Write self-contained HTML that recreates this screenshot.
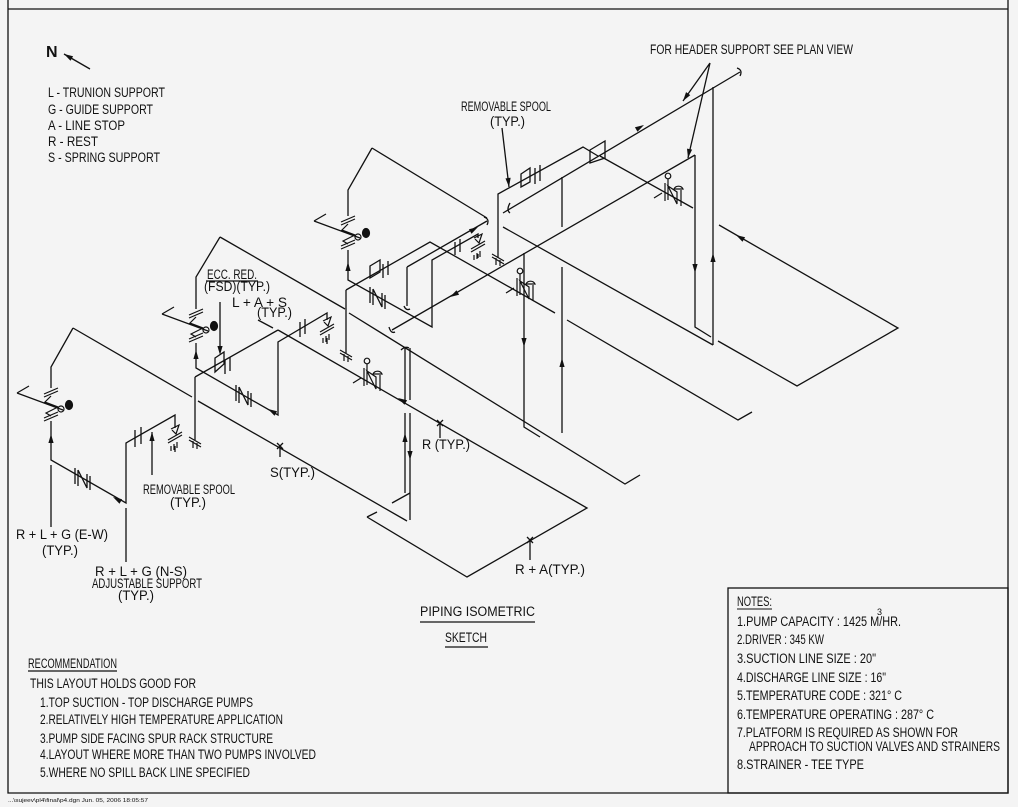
<!DOCTYPE html>
<html><head><meta charset="utf-8"><style>
html,body{margin:0;padding:0;background:#f4f4f4;}
svg{display:block;}
text{font-family:"Liberation Sans Narrow","Liberation Sans",sans-serif;fill:#111;font-size:13.5px;}
</style></head><body>
<svg width="1018" height="807" viewBox="0 0 1018 807" xmlns="http://www.w3.org/2000/svg">
<defs>
<path id="ar" d="M0,0 L-9,-2.6 L-9,2.6Z" fill="#111"/>
<g id="str" fill="none" stroke="#111" stroke-width="1.2">
<path d="M-7,-11 L7,-17 M-7,-8 L7,-14 M0,-9 L-6,-3 L7,2 L-5,8 L0,11 M-7,13 L7,7 M-7,16 L7,10 M-34,-12 L12,5 M-34,-12 L-22,-19"/>
<circle cx="10" cy="4" r="3"/><ellipse cx="18" cy="0" rx="3.5" ry="4.5" fill="#111"/>
</g>
<g id="chk" fill="none" stroke="#111" stroke-width="1.3">
<path d="M-7,-10 L-7,6 M-4,-8 L-4,8 M-4,-8 L5,10 L5,-4 M8,-2 L8,12"/>
</g>
<g id="pv" fill="none" stroke="#111" stroke-width="1.2">
<path d="M-14,6 L-6,1 M-3,-9 L-3,9 M0,-10 L0,8 M0,-6 L9,12 L9,0 Z M13,-2 L13,14"/>
<circle cx="0" cy="-16" r="2.8"/><path d="M0,-13 L0,-10 M6,-3 A5,5 0 0 1 15,-3 Z"/>
</g>
<g id="sv" fill="none" stroke="#111" stroke-width="1.2">
<path d="M-7,3 L7,-5 M-7,6 L7,-2 M-4,-8 L4,-12 L1,-3 L-3,-7 M-4,9 L-4,14 M-1,7 L-1,13 M2,5 L2,11"/>
</g>
<g id="ft" fill="none" stroke="#111" stroke-width="1.2">
<path d="M-6,-4 L6,3 M-6,-1 L6,6 M-2,0 L-2,7 M2,2 L2,8"/>
</g>
</defs>
<g fill="none" stroke="#111" stroke-width="1.3">
<path d="M8,0 L8,793 L1008,793 L1008,0 M8,9 L1008,9"/>
<rect x="728" y="588" width="280" height="205"/>
<path d="M90,69 L64,54"/>
<path d="M73,328 L51,367 L51,388 M51,421 L51,460 L126,503 L126,443 L175,415 L175,428 M175,446 L175,452"/>
<path d="M135,430 L135,447 M141,427 L141,444"/>
<path d="M51,465 L51,527 M126,508 L126,562 M152,432 L152,475"/>
<path d="M195,377 L195,440 M195,377 L278,330"/>
<path d="M225,360 L225,374 M230,357 L230,371"/>
<path d="M220,237 L196,277 L196,309 M196,343 L196,368 L278,415 L278,342 L327,313 L327,320 M327,338 L327,344"/>
<path d="M300,322 L300,337 M305,319 L305,334"/>
<path d="M73,328 L192,397 M198,401 L407,521 M392,503 L410,493 M367,517 L377,512 M367,517 L467,577 L587,508 L278,330"/>
<path d="M258,320 L273,328 M220,302 L220,352"/>
<path d="M405,348 L405,400 M405,413 L405,493 M410,348 L410,400 M410,413 L410,520"/>
<path d="M401,350 Q405,346 409,348"/>
<path d="M372,148 L348,190 L348,216 M348,250 L348,280 L432,327 L432,260 L478,234 L478,238 M478,254 L478,258"/>
<path d="M455,242 L455,255 M460,239 L460,252"/>
<path d="M346,290 L346,353 M346,290 L430,242 L555,313"/>
<path d="M383,264 L383,278 M388,261 L388,275"/>
<path d="M407,267 L487,221 M407,267 L407,306 M404,306 Q406,311 410,309 M484,217 Q490,219 487,225"/>
<path d="M392,330 L695,155 M389,327 Q391,334 395,332"/>
<path d="M220,237 L345,309 M349,313 L625,484 L640,475"/>
<path d="M498,258 L498,194 L583,147 L598,156 M510,203 Q506,210 510,213 M503,213 L740,72 M737,68 Q743,70 740,76"/>
<path d="M600,156 L693,208 M372,148 L487,218 M503,227 L713,345 M567,320 L738,420 L752,412"/>
<path d="M524,253 L524,427 L540,437 M562,177 L562,227 M562,267 L562,433"/>
<path d="M695,155 L695,327 L711,337 M713,87 L713,345"/>
<path d="M719,225 L898,328 L797,386 L718,341"/>
<path d="M710,63 L683,101 M710,63 L688,158 M502,128 L509,187"/>
<path d="M535,168 L535,184 M540,165 L540,181"/>
<path d="M215,358 L224,352 L224,364 L215,372 Z M521,174 L530,168 L530,182 L521,187 Z M590,150 L605,141 L605,158 L590,163 Z M370,266 L380,260 L380,272 L370,278 Z"/>
<path d="M277,443 L283,449 M283,443 L277,449 M280,446 L280,457 M437,420 L443,426 M443,420 L437,426 M440,423 L440,438 M527,537 L533,543 M533,537 L527,543 M530,540 L530,560"/>
<path d="M420,622 L535,622 M445,647 L488,647 M28,671 L117,671 M206,281 L258,281"/>
</g>
<use href="#str" x="51" y="405"/><use href="#str" x="196" y="326"/><use href="#str" x="348" y="233"/>
<use href="#chk" x="82" y="478"/><use href="#chk" x="243" y="395"/><use href="#chk" x="377" y="297"/>
<use href="#pv" x="367" y="377"/><use href="#pv" x="520" y="287"/><use href="#pv" x="668" y="192"/>
<use href="#sv" x="175" y="437"/><use href="#sv" x="327" y="329"/><use href="#sv" x="478" y="246"/>
<use href="#ft" x="195" y="441"/><use href="#ft" x="346" y="354"/><use href="#ft" x="498" y="258"/>
<use href="#ar" transform="translate(64,54) rotate(-150)"/>
<use href="#ar" transform="translate(51,434) rotate(-90)"/>
<use href="#ar" transform="translate(113,497) rotate(-150)"/>
<use href="#ar" transform="translate(152,432) rotate(-90)"/>
<use href="#ar" transform="translate(196,350) rotate(-90)"/>
<use href="#ar" transform="translate(268,409) rotate(-150)"/>
<use href="#ar" transform="translate(220,355) rotate(90)"/>
<use href="#ar" transform="translate(348,262) rotate(-90)"/>
<use href="#ar" transform="translate(398,398) rotate(-150)"/>
<use href="#ar" transform="translate(478,227) rotate(-30)"/>
<use href="#ar" transform="translate(450,297) rotate(150)"/>
<use href="#ar" transform="translate(405,433) rotate(-90)"/>
<use href="#ar" transform="translate(410,460) rotate(90)"/>
<use href="#ar" transform="translate(524,347) rotate(90)"/>
<use href="#ar" transform="translate(562,358) rotate(-90)"/>
<use href="#ar" transform="translate(695,273) rotate(90)"/>
<use href="#ar" transform="translate(713,253) rotate(-90)"/>
<use href="#ar" transform="translate(644,125) rotate(-30)"/>
<use href="#ar" transform="translate(683,101) rotate(125)"/>
<use href="#ar" transform="translate(688,158) rotate(100)"/>
<use href="#ar" transform="translate(509,187) rotate(84)"/>
<use href="#ar" transform="translate(736,235) rotate(-150)"/>
<text x="46" y="57" style="font-family:'Liberation Sans',sans-serif;font-weight:bold;font-size:16px">N</text>
<text x="48" y="97" textLength="117" lengthAdjust="spacingAndGlyphs">L - TRUNION SUPPORT</text>
<text x="48" y="114" textLength="105" lengthAdjust="spacingAndGlyphs">G - GUIDE SUPPORT</text>
<text x="48" y="130" textLength="77" lengthAdjust="spacingAndGlyphs">A - LINE STOP</text>
<text x="48" y="146" textLength="50" lengthAdjust="spacingAndGlyphs">R - REST</text>
<text x="48" y="162" textLength="112" lengthAdjust="spacingAndGlyphs">S - SPRING SUPPORT</text>
<text x="650" y="54" textLength="203" lengthAdjust="spacingAndGlyphs">FOR HEADER SUPPORT SEE PLAN VIEW</text>
<text x="461" y="111" textLength="90" lengthAdjust="spacingAndGlyphs">REMOVABLE SPOOL</text>
<text x="490" y="126" textLength="35" lengthAdjust="spacingAndGlyphs">(TYP.)</text>
<text x="207" y="279" textLength="50" lengthAdjust="spacingAndGlyphs">ECC. RED.</text>
<text x="204" y="291" textLength="66" lengthAdjust="spacingAndGlyphs">(FSD)(TYP.)</text>
<text x="232" y="307" textLength="55" lengthAdjust="spacingAndGlyphs">L + A + S</text>
<text x="257" y="317" textLength="35" lengthAdjust="spacingAndGlyphs">(TYP.)</text>
<text x="143" y="494" textLength="92" lengthAdjust="spacingAndGlyphs">REMOVABLE SPOOL</text>
<text x="170" y="507" textLength="36" lengthAdjust="spacingAndGlyphs">(TYP.)</text>
<text x="270" y="477" textLength="45" lengthAdjust="spacingAndGlyphs">S(TYP.)</text>
<text x="422" y="449" textLength="48" lengthAdjust="spacingAndGlyphs">R (TYP.)</text>
<text x="515" y="574" textLength="70" lengthAdjust="spacingAndGlyphs">R + A(TYP.)</text>
<text x="16" y="539" textLength="92" lengthAdjust="spacingAndGlyphs">R + L + G (E-W)</text>
<text x="42" y="555" textLength="36" lengthAdjust="spacingAndGlyphs">(TYP.)</text>
<text x="95" y="576" textLength="92" lengthAdjust="spacingAndGlyphs">R + L + G (N-S)</text>
<text x="92" y="588" textLength="110" lengthAdjust="spacingAndGlyphs">ADJUSTABLE SUPPORT</text>
<text x="118" y="600" textLength="36" lengthAdjust="spacingAndGlyphs">(TYP.)</text>
<text x="420" y="616" textLength="115" lengthAdjust="spacingAndGlyphs">PIPING ISOMETRIC</text>
<text x="445" y="642" textLength="42" lengthAdjust="spacingAndGlyphs">SKETCH</text>
<text x="28" y="668" textLength="89" lengthAdjust="spacingAndGlyphs">RECOMMENDATION</text>
<text x="30" y="688" textLength="166" lengthAdjust="spacingAndGlyphs">THIS LAYOUT HOLDS GOOD FOR</text>
<text x="40" y="707" textLength="213" lengthAdjust="spacingAndGlyphs">1.TOP SUCTION - TOP DISCHARGE PUMPS</text>
<text x="40" y="724" textLength="243" lengthAdjust="spacingAndGlyphs">2.RELATIVELY HIGH TEMPERATURE APPLICATION</text>
<text x="40" y="743" textLength="233" lengthAdjust="spacingAndGlyphs">3.PUMP SIDE FACING SPUR RACK STRUCTURE</text>
<text x="40" y="759" textLength="276" lengthAdjust="spacingAndGlyphs">4.LAYOUT WHERE MORE THAN TWO PUMPS INVOLVED</text>
<text x="40" y="777" textLength="210" lengthAdjust="spacingAndGlyphs">5.WHERE NO SPILL BACK LINE SPECIFIED</text>
<text x="737" y="606" textLength="35" lengthAdjust="spacingAndGlyphs">NOTES:</text>
<path d="M737,609 L772,609" stroke="#111" stroke-width="1"/>
<text x="737" y="626" textLength="164" lengthAdjust="spacingAndGlyphs">1.PUMP CAPACITY : 1425 M/HR.</text>
<text x="877" y="615" style="font-size:9px">3</text>
<text x="737" y="644" textLength="87" lengthAdjust="spacingAndGlyphs">2.DRIVER : 345 KW</text>
<text x="737" y="663" textLength="139" lengthAdjust="spacingAndGlyphs">3.SUCTION LINE SIZE : 20"</text>
<text x="737" y="682" textLength="149" lengthAdjust="spacingAndGlyphs">4.DISCHARGE LINE SIZE : 16"</text>
<text x="737" y="700" textLength="165" lengthAdjust="spacingAndGlyphs">5.TEMPERATURE CODE : 321° C</text>
<text x="737" y="719" textLength="197" lengthAdjust="spacingAndGlyphs">6.TEMPERATURE OPERATING : 287° C</text>
<text x="737" y="737" textLength="221" lengthAdjust="spacingAndGlyphs">7.PLATFORM IS REQUIRED AS SHOWN FOR</text>
<text x="749" y="751" textLength="251" lengthAdjust="spacingAndGlyphs">APPROACH TO SUCTION VALVES AND STRAINERS</text>
<text x="737" y="769" textLength="127" lengthAdjust="spacingAndGlyphs">8.STRAINER - TEE TYPE</text>
<text x="8" y="802" style="font-size:5px" textLength="140" lengthAdjust="spacingAndGlyphs">...\sujeev\pl4\final\p4.dgn Jun. 05, 2006 18:05:57</text>
</svg>
</body></html>
